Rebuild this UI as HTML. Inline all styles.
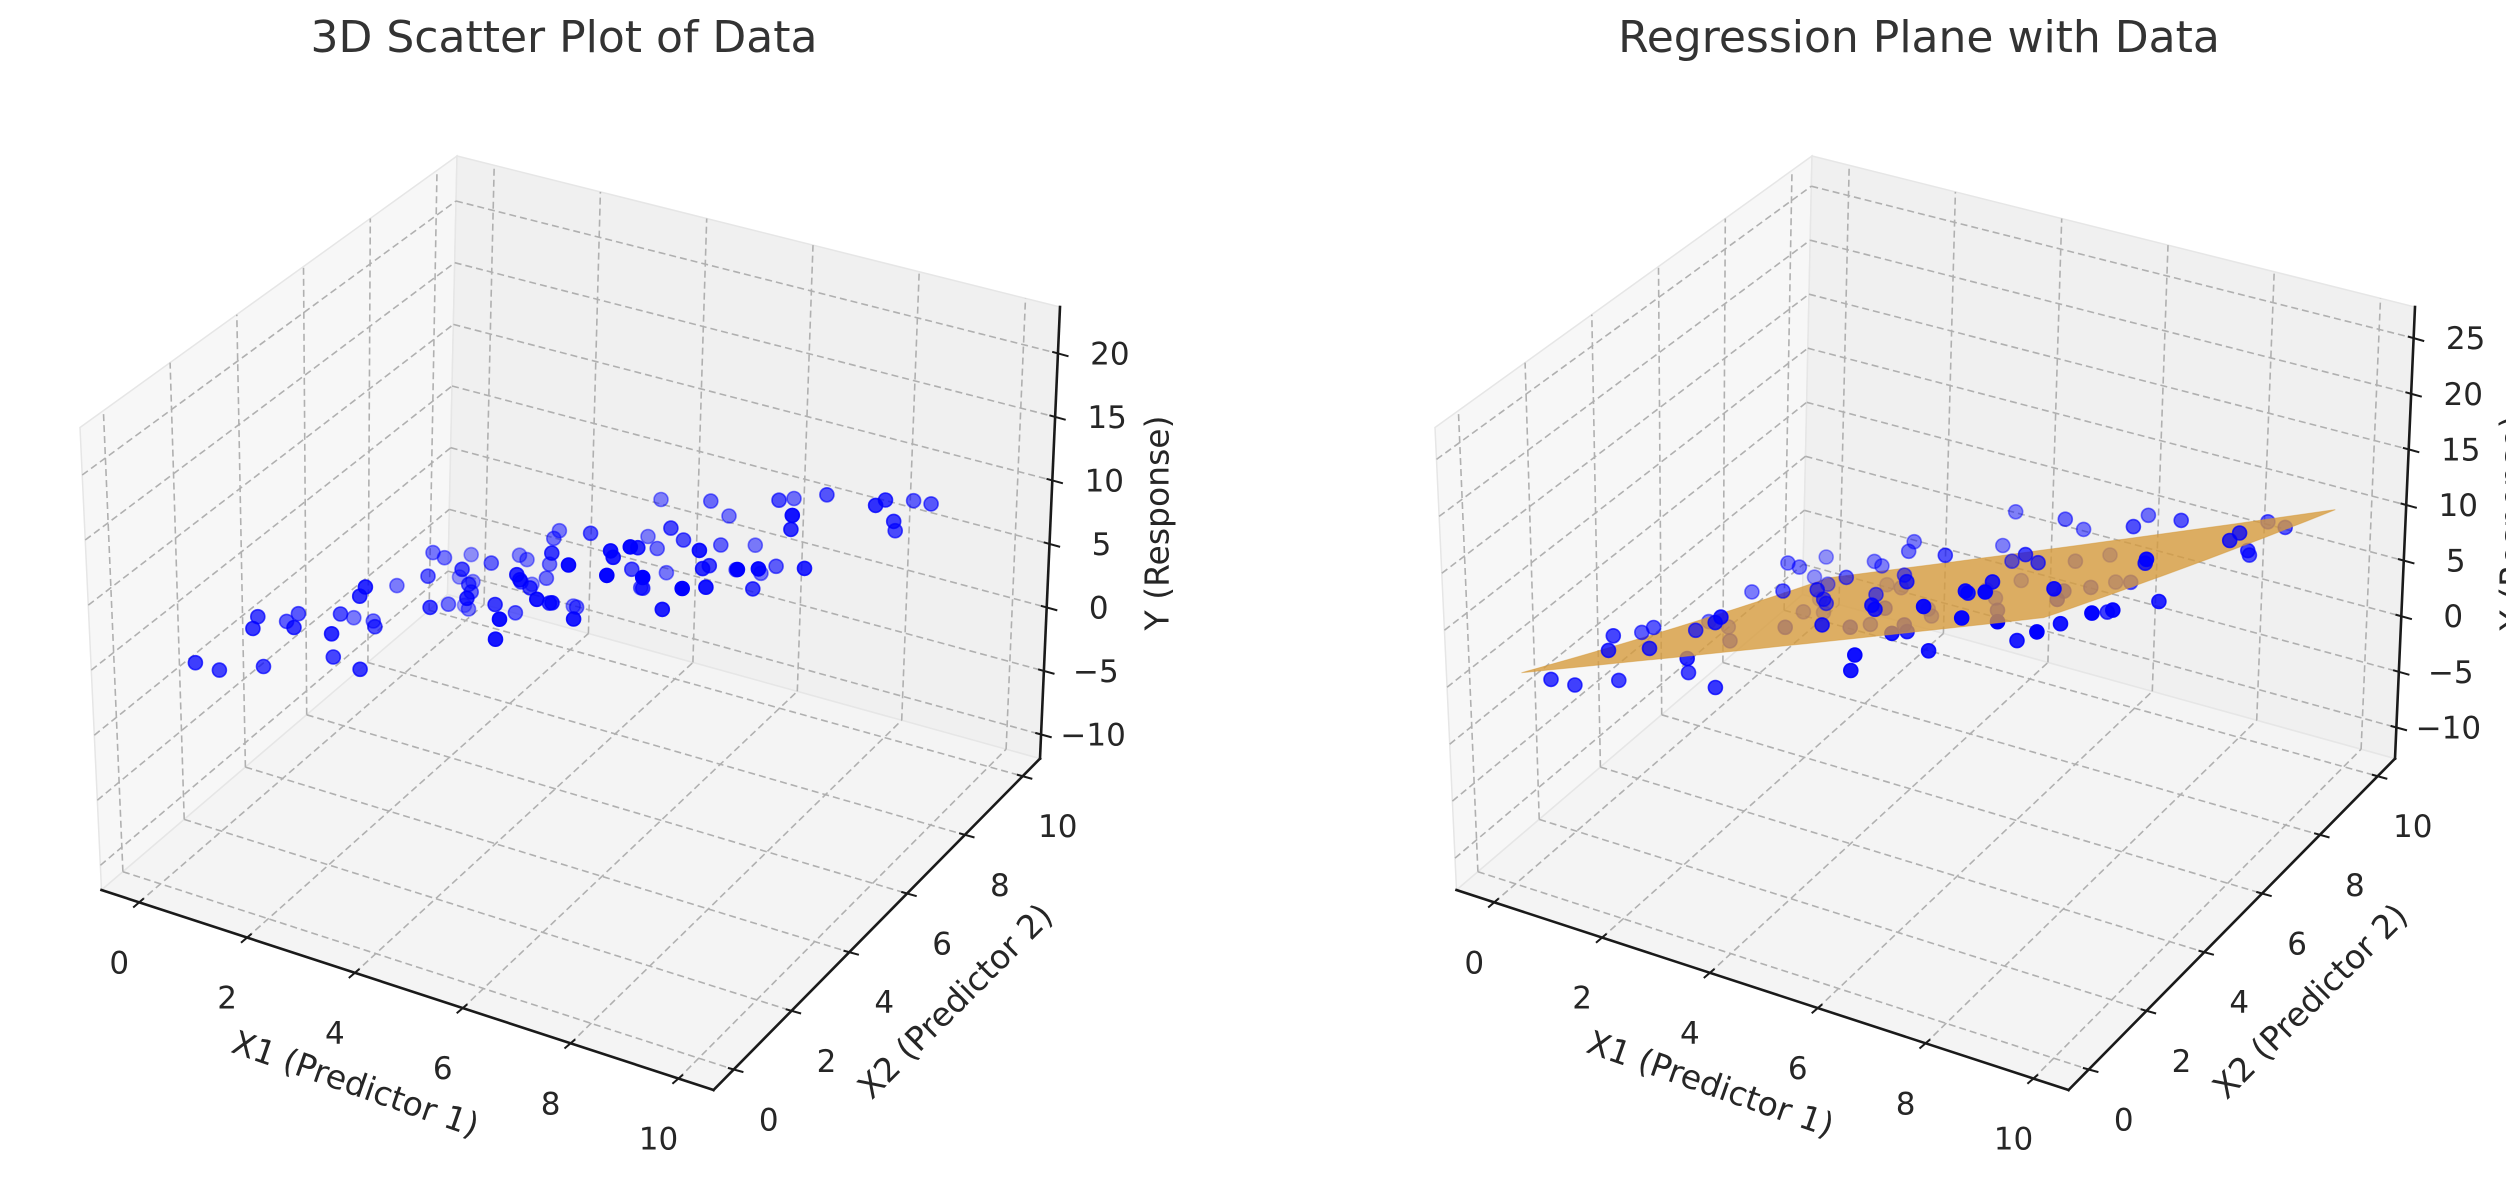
<!DOCTYPE html>
<html><head><meta charset="utf-8"><title>3D Regression</title>
<style>html,body{margin:0;padding:0;background:#fff}svg{display:block}text{font-family:"DejaVu Sans","Liberation Sans",sans-serif;fill:#262626}</style>
</head><body>
<svg id="fig" xmlns="http://www.w3.org/2000/svg" width="2506" height="1180" viewBox="0 0 2506 1180">
<rect x="0" y="0" width="2506" height="1180" fill="#ffffff"/>
<text x="564" y="52" font-size="44" text-anchor="middle" style="fill:#333">3D Scatter Plot of Data</text>
<text x="1919" y="52" font-size="44" text-anchor="middle" style="fill:#333">Regression Plane with Data</text>
<g id="left"></g>
<g id="right"></g>
</svg>
<script>
const X1=[3.7,9.5,7.3,6.0,1.6,1.6,0.6,8.7,6.0,7.1,0.2,9.7,8.3,2.1,1.8,1.8,3.0,5.2,4.3,2.9,6.1,1.4,2.9,3.7,4.6,7.9,2.0,5.1,5.9,0.5,6.1,1.7,0.7,9.5,9.7,8.1,3.0,0.9,6.8,4.4,1.2,5.0,0.3,9.1,2.6,6.6,3.1,5.2,5.5,1.8,9.7,7.8,2.0,5.1,0.5,1.1,9.1,7.7,5.5,7.1,6.9,1.1,4.4,0.7,6.3,3.3,3.4,2.7,8.6,6.9,7.7,7.2,3.0,4.5,2.9,9.4,2.4,0.2,9.2,3.1,6.3,3.8,5.2,2.6,5.8,6.9,1.1,8.7,2.0,0.8,5.9,4.5,4.4,0.6,8.5,9.7,3.2,3.0,7.8,6.2];
const X2=[9.5,7.3,1.9,0.5,3.2,7.3,9.1,2.5,6.6,5.5,6.0,1.7,3.0,2.1,8.6,1.4,8.3,2.6,4.6,7.8,5.1,0.8,0.7,9.9,7.7,0.7,3.6,9.7,9.4,8.9,6.0,9.2,0.9,7.0,2.4,1.1,7.4,1.8,1.6,2.4,7.2,4.0,3.7,9.3,6.3,7.3,6.4,8.9,9.9,6.3,6.3,2.7,8.5,3.9,0.5,8.3,8.1,8.3,5.8,0.9,8.1,7.0,3.3,3.4,0.1,1.1,5.7,5.4,0.6,2.7,4.2,7.6,1.4,8.4,1.6,4.5,6.0,9.6,0.8,4.5,1.3,7.0,2.7,8.5,8.2,3.5,1.6,5.3,5.3,5.6,2.5,6.2,8.9,6.7,9.8,3.5,3.3,7.5,5.7,9.9];
const Y=[0.2,12.7,19.1,13.6,4.6,-3.4,-4.0,16.8,8.7,10.3,-3.1,21.0,18.1,4.1,-1.6,7.4,-3.6,13.3,7.1,2.7,8.2,8.0,9.7,2.3,1.0,20.4,3.3,3.0,0.0,-5.5,11.0,-5.3,3.7,15.0,19.6,22.0,0.5,6.3,13.9,10.9,0.4,8.0,1.4,9.3,3.5,5.6,2.4,6.0,0.7,-0.7,16.3,13.6,-1.5,12.2,4.8,-3.9,9.8,10.6,7.5,19.8,4.5,1.1,8.6,3.1,16.3,13.0,1.8,3.8,21.3,16.5,13.5,11.1,5.7,2.5,10.8,14.9,1.6,-9.6,20.8,7.3,15.4,0.0,12.7,1.5,4.7,15.6,3.1,15.4,3.8,-1.8,12.2,8.3,-0.6,-1.5,7.8,21.4,6.9,1.4,8.9,5.2];
const X_TICKS=[0,2,4,6,8,10];
const Y_TICKS=[0,2,4,6,8,10];
const Z_TICKS_LEFT=[-10,-5,0,5,10,15,20];
const Z_TICKS_RIGHT=[-10,-5,0,5,10,15,20,25];
const X_LIM=[-0.7,10.65];
const Y_LIM=[-0.7,10.6];
const Z_LIM_LEFT=[-11.9,23.65];
const Z_LIM_RIGHT=[-12.8,27.8];
const PLANE_COEF=[5.6,1.95,-1.45];

const NS="http://www.w3.org/2000/svg";
const BASE={P000:[101.5,890],P100:[713.5,1090],P110:[1040,758.6],P010:[447.5,594.5],P001:[80,427.5],P101:[718,615],P111:[1060,307],P011:[457,156]};
function mk(tag,attrs,parent){const e=document.createElementNS(NS,tag);for(const k in attrs)e.setAttribute(k,attrs[k]);parent.appendChild(e);return e;}
function makeProj(dx,zlim){
  const C={};for(const k in BASE)C[k]=[BASE[k][0]+dx,BASE[k][1]];
  return function(x,y,z){
    const u=(x-X_LIM[0])/(X_LIM[1]-X_LIM[0]),v=(y-Y_LIM[0])/(Y_LIM[1]-Y_LIM[0]),w=(z-zlim[0])/(zlim[1]-zlim[0]);
    let px=0,py=0;
    for(const a of [0,1])for(const b of [0,1])for(const c of [0,1]){
      const wt=(a?u:1-u)*(b?v:1-v)*(c?w:1-w);const P=C['P'+a+b+c];px+=wt*P[0];py+=wt*P[1];}
    return [px,py];
  };
}
function line(g,p,q,attrs){return mk('line',Object.assign({x1:p[0].toFixed(1),y1:p[1].toFixed(1),x2:q[0].toFixed(1),y2:q[1].toFixed(1)},attrs),g);}
function poly(g,pts,attrs){return mk('polygon',Object.assign({points:pts.map(p=>p[0].toFixed(1)+','+p[1].toFixed(1)).join(' ')},attrs),g);}
function fmt(v){return v<0?'\u2212'+(-v):String(v);}

function drawChart(g,dx,zlim,zticks,withPlane){
  const P=makeProj(dx,zlim);
  const [x0,x1]=X_LIM,[y0,y1]=Y_LIM,[z0,z1]=zlim;
  const paneL=poly(g,[P(x0,y0,z0),P(x0,y1,z0),P(x0,y1,z1),P(x0,y0,z1)],{fill:'#f7f7f7',stroke:'#e6e6e6','stroke-width':1.5});
  
  
  const paneB=poly(g,[P(x0,y1,z0),P(x1,y1,z0),P(x1,y1,z1),P(x0,y1,z1)],{fill:'#f0f0f0',stroke:'#e6e6e6','stroke-width':1.5});
  
  
  const paneF=poly(g,[P(x0,y0,z0),P(x1,y0,z0),P(x1,y1,z0),P(x0,y1,z0)],{fill:'#f4f4f4',stroke:'#e6e6e6','stroke-width':1.5});
  
  
  const ga={stroke:'#b0b0b0','stroke-width':1.6,'stroke-dasharray':'7,4',fill:'none'};
  const grid=mk('g',{},g);
  
  
  for(const t of X_TICKS){line(grid,P(t,y0,z0),P(t,y1,z0),ga);line(grid,P(t,y1,z0),P(t,y1,z1),ga);}
  for(const t of Y_TICKS){line(grid,P(x0,t,z0),P(x1,t,z0),ga);line(grid,P(x0,t,z0),P(x0,t,z1),ga);}
  for(const t of zticks){line(grid,P(x0,y0,t),P(x0,y1,t),ga);line(grid,P(x0,y1,t),P(x1,y1,t),ga);}
  const aa={stroke:'#1a1a1a','stroke-width':2.6,'stroke-linecap':'square'};
  const ax=line(g,P(x0,y0,z0),P(x1,y0,z0),aa);
  
  
  const ay=line(g,P(x1,y0,z0),P(x1,y1,z0),aa);
  
  
  const az=line(g,P(x1,y1,z0),P(x1,y1,z1),aa);
  
  
  const ta={stroke:'#1a1a1a','stroke-width':2};
  const dY=[0.76,-0.65],dX=[0.963,0.267];
  for(const t of X_TICKS){const p=P(t,y0,z0);
    line(g,[p[0]-8*dY[0],p[1]-8*dY[1]],[p[0]+6*dY[0],p[1]+6*dY[1]],ta);
    const tx=mk('text',{x:(p[0]-20).toFixed(1),y:(p[1]+60+11).toFixed(1),'font-size':31,'text-anchor':'middle'},g);tx.textContent=fmt(t);
    
    }
  for(const t of Y_TICKS){const p=P(x1,t,z0);
    line(g,[p[0]-6*dX[0],p[1]-6*dX[1]],[p[0]+10*dX[0],p[1]+10*dX[1]],ta);
    const tx=mk('text',{x:(p[0]+35).toFixed(1),y:(p[1]+50+11).toFixed(1),'font-size':31,'text-anchor':'middle'},g);tx.textContent=fmt(t);
    
    }
  for(const t of zticks){const p=P(x1,y1,t);
    line(g,[p[0]-6*dX[0],p[1]-6*dX[1]],[p[0]+11*dX[0],p[1]+11*dX[1]],ta);
    const tx=mk('text',{x:(p[0]+52).toFixed(1),y:(p[1]+11).toFixed(1),'font-size':31,'text-anchor':'middle'},g);tx.textContent=fmt(t);
    
    }
  const l1=mk('text',{x:0,y:0,'font-size':33,'text-anchor':'middle','dominant-baseline':'central',transform:`translate(${355.6+dx},1083.7) rotate(19.3)`},g);l1.textContent='X1 (Predictor 1)';
  
  
  const l2=mk('text',{x:0,y:0,'font-size':33,'text-anchor':'middle','dominant-baseline':'central',transform:`translate(${955+dx},1001) rotate(-45)`},g);l2.textContent='X2 (Predictor 2)';
  
  
  const l3=mk('text',{x:0,y:0,'font-size':33,'text-anchor':'middle','dominant-baseline':'central',transform:`translate(${1157+dx},523) rotate(-90)`},g);l3.textContent='Y (Response)';
  
  

  const nx=v=>(v-x0)/(x1-x0),ny=v=>(v-y0)/(y1-y0),nz=v=>(v-z0)/(z1-z0);
  const pts=X1.map((x,i)=>({x:x,y:X2[i],z:Y[i],d:1.73*nx(x)-3*ny(X2[i])+1.5*nz(Y[i])}));
  const dmin=Math.min(...pts.map(p=>p.d)),dmax=Math.max(...pts.map(p=>p.d));
  pts.forEach(p=>{p.a=0.35+0.65*(p.d-dmin)/(dmax-dmin);p.above=p.z>PLANE_COEF[0]+PLANE_COEF[1]*p.x+PLANE_COEF[2]*p.y;});
  pts.sort((a,b)=>a.d-b.d);
  const drawPts=(list)=>{const pg=mk('g',{},g);
    
    
    for(const p of list){const s=P(p.x,p.y,p.z);
      const c=mk('circle',{cx:s[0].toFixed(1),cy:s[1].toFixed(1),r:7,fill:'#0000ff','fill-opacity':p.a.toFixed(2),stroke:'#0000ff','stroke-opacity':p.a.toFixed(2),'stroke-width':1.6},pg);
      
      }};
  if(!withPlane){drawPts(pts);return;}
  drawPts(pts.filter(p=>!p.above));
  const xa=Math.min(...X1),xb=Math.max(...X1),ya=Math.min(...X2),yb=Math.max(...X2);
  const pz=(x,y)=>PLANE_COEF[0]+PLANE_COEF[1]*x+PLANE_COEF[2]*y;
  const edge=[];const N=20;
  for(let i=0;i<=N;i++){const x=xa+(xb-xa)*i/N;edge.push(P(x,ya,pz(x,ya)));}
  for(let i=0;i<=N;i++){const y=ya+(yb-ya)*i/N;edge.push(P(xb,y,pz(xb,y)));}
  for(let i=N;i>=0;i--){const x=xa+(xb-xa)*i/N;edge.push(P(x,yb,pz(x,yb)));}
  for(let i=N;i>=0;i--){const y=ya+(yb-ya)*i/N;edge.push(P(xa,y,pz(xa,y)));}
  const pl=poly(g,edge,{fill:'#d69a3a','fill-opacity':0.78,stroke:'#d69a3a','stroke-opacity':0.5,'stroke-width':1});
  
  
  drawPts(pts.filter(p=>p.above));
}
drawChart(document.getElementById('left'),0,Z_LIM_LEFT,Z_TICKS_LEFT,false);
drawChart(document.getElementById('right'),1355,Z_LIM_RIGHT,Z_TICKS_RIGHT,true);
</script>
</body></html>
